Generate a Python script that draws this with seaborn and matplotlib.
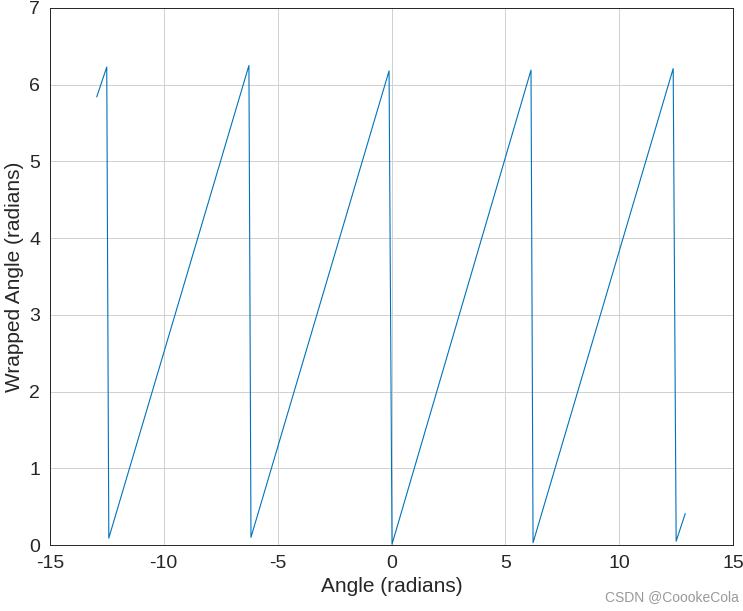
import matplotlib
matplotlib.use("Agg")
import matplotlib.pyplot as plt
import seaborn as sns
import pandas as pd

angle = [-12.94, -12.50, -12.41, -6.26, -6.17, -0.11, 0.02, 6.12, 6.21, 12.36, 12.49, 12.89]
wrapped = [5.84, 6.23, 0.09, 6.25, 0.10, 6.18, 0.01, 6.19, 0.03, 6.21, 0.05, 0.41]
xticks = [-15, -10, -5, 0, 5, 10, 15]
yticks = [0, 1, 2, 3, 4, 5, 6, 7]

sns.set_style("white")
plt.rcParams['font.family'] = ['Liberation Sans', 'DejaVu Sans']
plt.rcParams['axes.unicode_minus'] = False

fig = plt.figure(figsize=(7.43, 6.11), dpi=100)
ax = fig.add_axes([0.067, 0.108, 0.92, 0.879])
df = pd.DataFrame({"a": angle, "w": wrapped})
sns.lineplot(data=df, x="a", y="w", sort=False, ax=ax, color="#0072BD", linewidth=0.8)
ax.set_xlim(-15, 15)
ax.set_ylim(0, 7)
ax.set_xticks(xticks)
ax.set_yticks(yticks)
ax.grid(True, color="#d0d0d0", linewidth=0.7)
ax.tick_params(direction="in", labelsize=14, colors="#262626", length=4)
ax.tick_params(axis="x", pad=7)
ax.tick_params(axis="y", pad=7)
for s in ax.spines.values():
    s.set_color("#262626")
    s.set_linewidth(0.7)
ax.set_xlabel("Angle (radians)", fontsize=15, color="#262626", labelpad=4)
ax.set_ylabel("Wrapped Angle (radians)", fontsize=15, color="#262626", labelpad=4)
fig.text(0.995, 0.012, "CSDN @CoookeCola", ha="right", va="bottom", fontsize=10, color="#999999")
fig.savefig("out.png", dpi=100)
